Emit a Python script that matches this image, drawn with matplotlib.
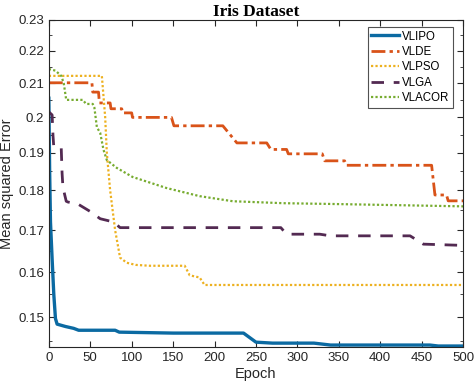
import matplotlib
matplotlib.use('Agg')
import matplotlib.pyplot as plt
from matplotlib.ticker import FixedLocator, NullFormatter

plt.rcParams['font.family'] = ['Liberation Sans', 'DejaVu Sans']

# VLIPO
ipo_x = [0, 1, 2, 4, 6, 8, 10, 14, 20, 30, 36, 80, 85, 150, 235, 250, 270, 320, 340, 460, 470, 500]
ipo_y = [0.2055, 0.185, 0.172, 0.163, 0.155, 0.1497, 0.1485, 0.1483, 0.148, 0.1476, 0.1472, 0.1472,
         0.1468, 0.1466, 0.1466, 0.1447, 0.1445, 0.1445, 0.1441, 0.1441, 0.1439, 0.1439]
# VLDE
de_x = [0, 52, 53, 60, 61, 74, 75, 88, 89, 100, 101, 148, 151, 210, 227, 263, 268, 287, 289, 330, 333,
        357, 359, 462, 466, 480, 482, 500]
de_y = [0.2101, 0.2101, 0.2073, 0.2073, 0.2041, 0.2041, 0.2024, 0.2024, 0.2012, 0.2012, 0.1999, 0.1999,
        0.1975, 0.1975, 0.1927, 0.1927, 0.1909, 0.1909, 0.1897, 0.1897, 0.1878, 0.1878, 0.1866, 0.1866,
        0.1788, 0.1788, 0.1773, 0.1773]
# VLPSO
pso_x = [0, 64, 68, 70, 74, 80, 86, 94, 105, 122, 164, 170, 182, 188, 500]
pso_y = [0.2122, 0.2122, 0.200, 0.190, 0.180, 0.170, 0.1634, 0.1622, 0.1617, 0.1615, 0.1615, 0.1593,
         0.1588, 0.1571, 0.1571]
# VLGA
ga_x = [0, 4, 5, 6, 15, 16, 17, 19, 21, 23, 35, 50, 62, 78, 86, 280, 287, 327, 340, 436, 452, 500]
ga_y = [0.2015, 0.2006, 0.1949, 0.1915, 0.1912, 0.1845, 0.1809, 0.179, 0.1772, 0.177, 0.1765, 0.1746,
        0.1728, 0.1720, 0.1706, 0.1706, 0.1690, 0.1690, 0.1686, 0.1686, 0.1666, 0.1663]
# VLACOR
acor_x = [0, 8, 15, 18, 21, 41, 45, 53, 55, 58, 62, 66, 70, 82, 101, 142, 182, 222, 283, 343, 500]
acor_y = [0.2143, 0.2138, 0.2122, 0.2100, 0.2050, 0.2050, 0.2038, 0.2038, 0.2027, 0.1971, 0.1955, 0.1908,
          0.1880, 0.1859, 0.1835, 0.1806, 0.1785, 0.1772, 0.1767, 0.1765, 0.1759]

yticks = [0.15, 0.16, 0.17, 0.18, 0.19, 0.2, 0.21, 0.22, 0.23]
ytick_labels = ['0.15', '0.16', '0.17', '0.18', '0.19', '0.2', '0.21', '0.22', '0.23']
xticks = [0, 50, 100, 150, 200, 250, 300, 350, 400, 450, 500]

fig = plt.figure(figsize=(4.74, 3.89), dpi=100)
ax = fig.add_axes([0.103, 0.108, 0.874, 0.841])

ax.plot(ipo_x, ipo_y, color='#0b6aa2', lw=2.4, label='VLIPO')
ax.plot(de_x, de_y, color='#d95319', lw=2.0, ls=(0, (5, 1.5, 1.2, 1.5)), label='VLDE')
ax.plot(pso_x, pso_y, color='#edb120', lw=1.6, ls=(0, (1, 1)), label='VLPSO')
ax.plot(ga_x, ga_y, color='#532a52', lw=2.0, ls=(0, (4.5, 3.5)), label='VLGA')
ax.plot(acor_x, acor_y, color='#77ac30', lw=1.6, ls=(0, (1, 1)), label='VLACOR')

ax.set_yscale('log')
ax.set_xlim(0, 500)
ax.set_ylim(0.1437, 0.23)
ax.yaxis.set_major_locator(FixedLocator(yticks))
ax.set_yticklabels(ytick_labels)
ax.yaxis.set_minor_locator(FixedLocator([0.145, 0.155, 0.165, 0.175, 0.185, 0.195, 0.205, 0.215, 0.225]))
ax.yaxis.set_minor_formatter(NullFormatter())
ax.set_xticks(xticks)

ax.tick_params(which='both', direction='in', top=True, right=True, colors='#262626', labelsize=9.5)
ax.tick_params(which='major', length=4)
ax.tick_params(which='minor', length=2.5)
for s in ax.spines.values():
    s.set_color('#262626')
    s.set_linewidth(0.8)

ax.set_xlabel('Epoch', fontsize=10.5, color='#262626', labelpad=2)
ax.set_ylabel('Mean squared Error', fontsize=10.5, color='#262626', labelpad=3)
ax.set_title('Iris Dataset', fontsize=12.5, fontweight='bold', family='Liberation Serif', pad=2)

leg = ax.legend(loc='upper right', bbox_to_anchor=(0.98, 0.985), fontsize=8.3, frameon=True, fancybox=False,
                edgecolor='#262626', handlelength=2.4, handletextpad=0.25, labelspacing=0.3,
                borderpad=0.3, borderaxespad=0.2)
leg.get_frame().set_linewidth(0.8)

fig.savefig('out.png', dpi=100)
